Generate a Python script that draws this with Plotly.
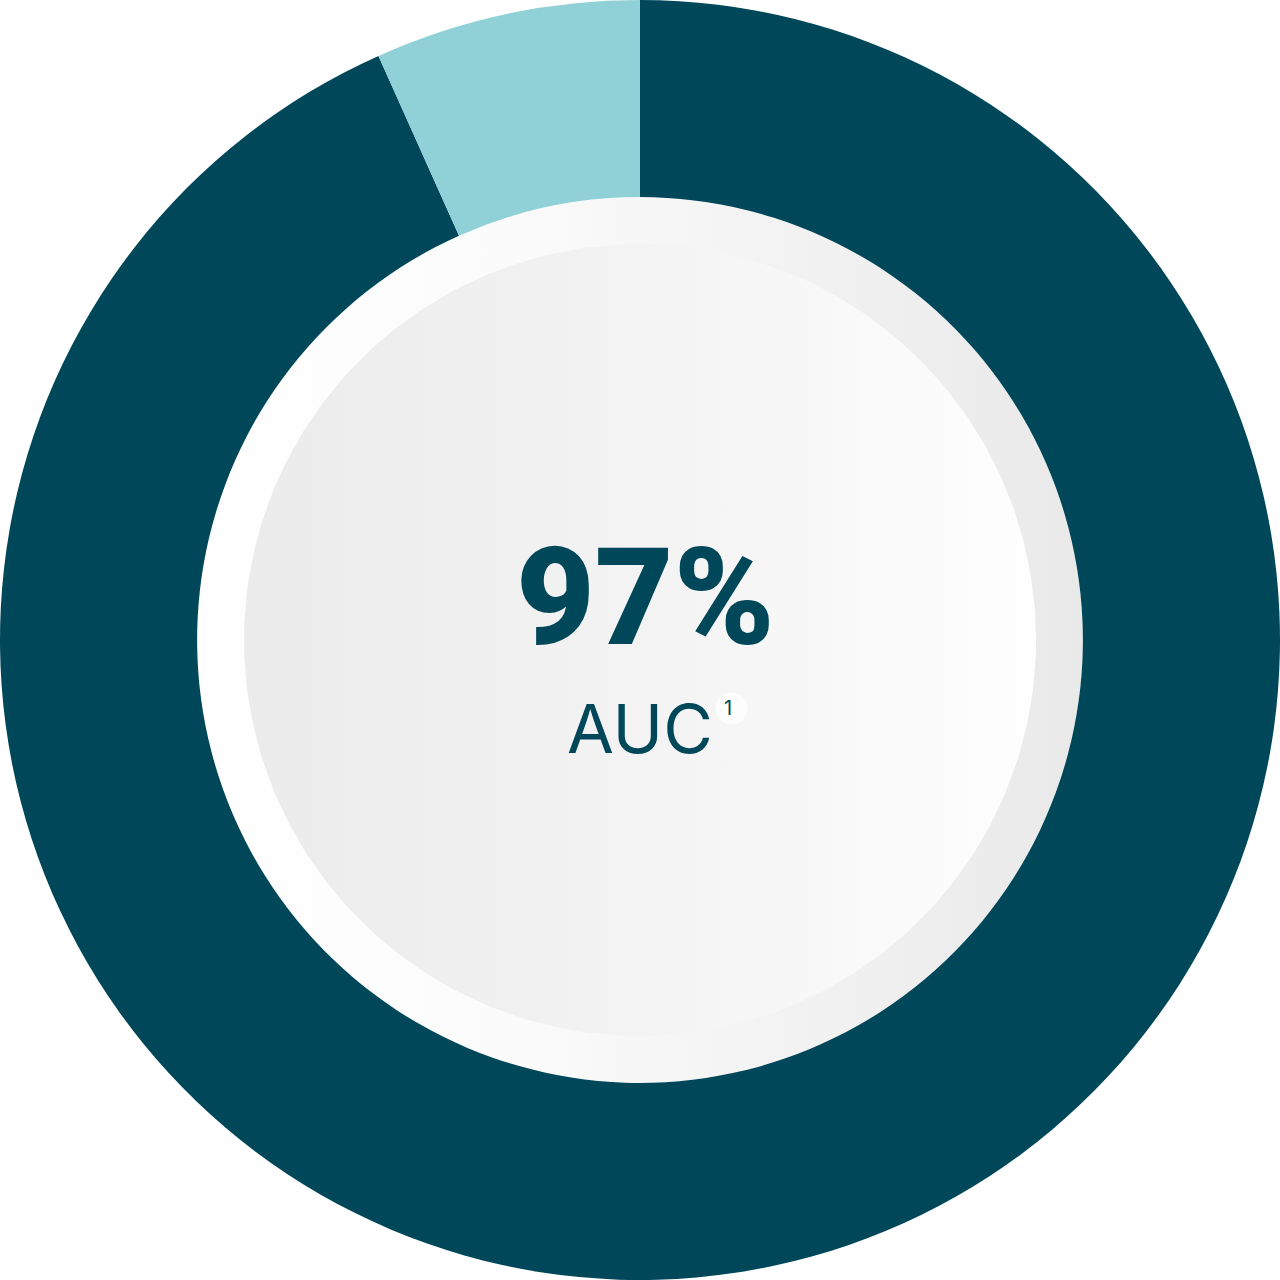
import numpy as np
import plotly.graph_objects as go

# donut segments
labels = ["AUC", "rest"]
shares = [93.3, 6.7]
colors = ["#01475a", "#8fd1d7"]

headline = "97%"
caption = "AUC"
footnote = "1"

fig = go.Figure()

# plate in the hole: a rim lit from the left and a disk lit from the right
t = np.linspace(0, 2 * np.pi, 361)

def disk(r, scale):
  return go.Scatter(
    x=r * np.cos(t), y=r * np.sin(t),
    mode="lines", line=dict(width=0),
    fill="toself",
    fillgradient=dict(type="horizontal", colorscale=scale),
    hoverinfo="skip", showlegend=False,
  )

fig.add_trace(disk(443, [[0, "#ffffff"], [0.35, "#fbfbfb"], [1, "#e9e9e9"]]))
fig.add_trace(disk(396, [[0, "#ebebeb"], [0.5, "#f3f3f3"], [1, "#fefefe"]]))

fig.add_trace(go.Pie(
  labels=labels,
  values=shares,
  hole=0.692,
  sort=False,
  direction="clockwise",
  rotation=0,
  marker=dict(colors=colors, line=dict(width=0)),
  textinfo="none",
  hoverinfo="skip",
  showlegend=False,
  domain=dict(x=[0, 1], y=[0, 1]),
))

fig.add_annotation(x=0.504, y=0.533, xref="paper", yref="paper",
                   text=headline, showarrow=False,
                   font=dict(family="Roboto", size=136, color="#01475a", weight=900))
fig.add_annotation(x=0.5, y=0.431, xref="paper", yref="paper",
                   text=caption, showarrow=False,
                   font=dict(family="Inter", size=68, color="#01475a"))
# small white glow behind the footnote mark
fig.add_shape(type="circle", xref="paper", yref="paper",
              x0=0.559, x1=0.584, y0=0.434, y1=0.459,
              fillcolor="white", line=dict(width=0), layer="above", opacity=0.8)
fig.add_annotation(x=0.569, y=0.447, xref="paper", yref="paper",
                   text=footnote, showarrow=False,
                   font=dict(family="Inter", size=20, color="#01475a"))

fig.update_layout(
  width=1280, height=1280,
  margin=dict(l=0, r=0, t=0, b=0),
  paper_bgcolor="white",
  plot_bgcolor="white",
  xaxis=dict(range=[-640, 640], domain=[0, 1], visible=False, fixedrange=True),
  yaxis=dict(range=[-640, 640], domain=[0, 1], visible=False, fixedrange=True),
)

fig.write_html("out.html", config={"displayModeBar": False},
               post_script="document.body.style.margin='0';")
